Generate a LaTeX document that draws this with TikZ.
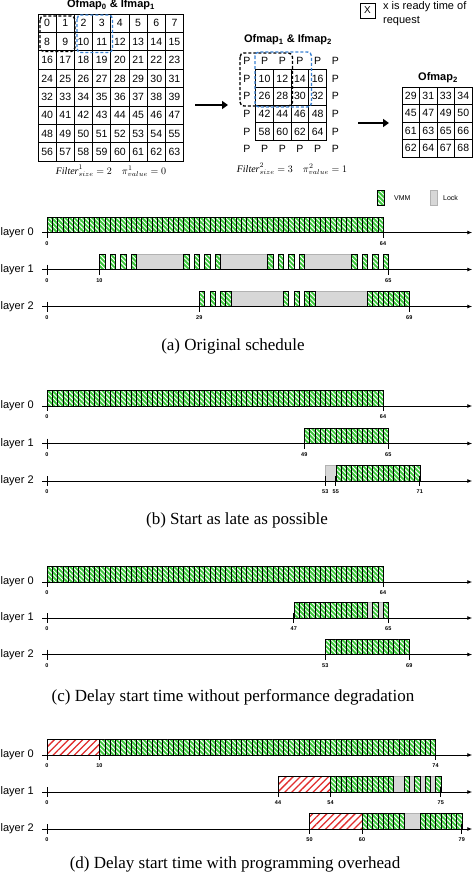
\documentclass[tikz,border=0pt]{standalone}
\usepackage{fontspec}
\setmainfont{Liberation Serif}
\setsansfont{Liberation Sans}
\usetikzlibrary{arrows.meta,patterns.meta}

\definecolor{vmmgreen}{RGB}{60,200,60}
\definecolor{lockgray}{RGB}{215,215,215}
\definecolor{ovhred}{RGB}{225,45,45}
\definecolor{winblue}{RGB}{60,130,210}

\tikzset{
  cellA/.style={draw, line width=0.8pt, minimum width=18.2pt, minimum height=18.4pt, inner sep=0pt, font=\sffamily\fontsize{10.5}{11}\selectfont},
  cellB/.style={minimum width=17.7pt, minimum height=17.7pt, inner sep=0pt, font=\sffamily\fontsize{10.5}{11}\selectfont},
  cellC/.style={draw, line width=0.8pt, minimum width=17.5pt, minimum height=17.5pt, inner sep=0pt, font=\sffamily\fontsize{10.5}{11}\selectfont},
  gridtitle/.style={font=\sffamily\bfseries\fontsize{11}{12}\selectfont},
  window/.style={dash pattern=on 3pt off 2pt, line width=1.4pt, rounded corners=4pt},
  bigarrow/.style={line width=2pt, -{Triangle[length=6pt,width=8pt]}},
  vmm/.style={draw=black, line width=0.5pt, preaction={fill=vmmgreen}, pattern={Lines[angle=-45,distance=3.2pt,line width=1pt]}, pattern color=white},
  lock/.style={draw=gray!60, line width=0.4pt, fill=lockgray},
  ovh/.style={draw=black, line width=0.5pt, preaction={fill=white}, pattern={Lines[angle=45,distance=5pt,line width=1.3pt]}, pattern color=ovhred},
  axis/.style={line width=0.9pt, -{Latex[length=5pt,width=4pt]}},
  tickline/.style={line width=0.8pt},
  ticklbl/.style={font=\sffamily\bfseries\fontsize{5.5}{6}\selectfont, inner sep=0pt},
  layerlbl/.style={anchor=east, inner sep=0pt, font=\sffamily\fontsize{11}{12}\selectfont},
  legtxt/.style={anchor=west, inner sep=0pt, font=\sffamily\fontsize{7}{8}\selectfont},
  capt/.style={font=\fontsize{17}{19}\selectfont}
}

% blocks of one time unit, bars and ticks (time units inside a row)
\newcommand{\vmmat}[1]{\foreach \tm in {#1}{\path[vmm] (\tm,0) rectangle ++(1,-15.5);}}
\newcommand{\lockbar}[2]{\path[lock] (#1,0) rectangle (#2,-15.5);}
\newcommand{\ovhbar}[2]{\path[ovh] (#1,0) rectangle (#2,-15.5);}
\newcommand{\tks}[2]{\foreach \tm in {#2}{\draw[tickline] (\tm,-5) -- (\tm,5); \node[ticklbl] (#1-\tm) at (\tm,11) {\tm};}}
\newcommand{\schedrow}[4]{%
  \begin{scope}[shift={(47,#2)}, x=5.25pt, y=-1pt]
    #4
    \node[layerlbl] (#1-lbl) at (-2.5,0) {layer #3};
    \coordinate (#1-s) at (-0.95,0);
    \coordinate (#1-e) at (81,0);
    \draw[axis] (#1-s) -- (#1-e);
  \end{scope}}

\begin{document}
\begin{tikzpicture}[x=1pt, y=-1pt]
\useasboundingbox (0,0) rectangle (474,879);

% grid 1
\node[gridtitle] (t1) at (111,5) {Ofmap\textsubscript{0} \& Ifmap\textsubscript{1}};
\foreach \r in {0,...,7}
  \foreach \c in {0,...,7}{
    \pgfmathtruncatemacro{\v}{8*\r+\c}
    \node[cellA] (g1-\r-\c) at ({38+18.2*(\c+0.5)},{14+18.4*(\r+0.5)}) {\v};
  }
\draw[window] (40,16) rectangle (75,51.5);
\draw[window, winblue] (77,15) rectangle (112.5,52.5);
\node (f1) at (111,171) {$\mathit{Filter}^{1}_{size}=2\quad \pi^{1}_{value}=0$};

% grid 2 (padded)
\node[gridtitle] (t2) at (288,40) {Ofmap\textsubscript{1} \& Ifmap\textsubscript{2}};
\foreach \r in {0,5}
  \foreach \c in {0,...,5}{
    \node[cellB] (g2-\r-\c) at ({238+17.7*(\c+0.5)},{52+17.7*(\r+0.5)}) {P};
  }
\foreach \r in {1,...,4}
  \foreach \c in {0,5}{
    \node[cellB] (g2-\r-\c) at ({238+17.7*(\c+0.5)},{52+17.7*(\r+0.5)}) {P};
  }
\foreach \r in {1,...,4}
  \foreach \c in {1,...,4}{
    \pgfmathtruncatemacro{\v}{16*(\r-1)+8+2*\c}
    \node[cellB, draw, line width=0.8pt] (g2-\r-\c) at ({238+17.7*(\c+0.5)},{52+17.7*(\r+0.5)}) {\v};
  }
\draw[window] (240,53) rectangle (292.5,106);
\draw[window, winblue] (255,52) rectangle (311.5,107);
\node (f2) at (292,169) {$\mathit{Filter}^{2}_{size}=3\quad \pi^{2}_{value}=1$};

% grid 3
\node[gridtitle] (t3) at (438,78) {Ofmap\textsubscript{2}};
\foreach \row [count=\r from 0] in {{29,31,33,34},{45,47,49,50},{61,63,65,66},{62,64,67,68}}
  \foreach \v [count=\c from 0] in \row{
    \node[cellC] (g3-\r-\c) at ({402+17.5*(\c+0.5)},{87+17.5*(\r+0.5)}) {\v};
  }

% arrows between the maps
\coordinate (arrA-s) at (195,105);
\coordinate (arrA-e) at (228,105);
\draw[bigarrow] (arrA-s) -- (arrA-e);
\coordinate (arrB-s) at (358,123);
\coordinate (arrB-e) at (389,123);
\draw[bigarrow] (arrB-s) -- (arrB-e);

% legends
\node[draw, line width=0.7pt, minimum size=15pt, inner sep=0pt, font=\sffamily\fontsize{10}{10}\selectfont] (legx) at (367.5,10.5) {X};
\node[anchor=north west, align=left, inner sep=0pt, font=\sffamily\fontsize{11}{14}\selectfont] (legxt) at (383,1) {x is ready time of\\request};
\path[vmm] (377.5,190) rectangle (384.5,205.5);
\node[legtxt] (legv) at (394,198) {VMM};
\path[lock] (430,190) rectangle (437,205.5);
\node[legtxt] (legl) at (443,198) {Lock};

% (a) original schedule
\schedrow{a0}{232.5}{0}{\vmmat{0,...,63} \tks{a0}{0,64}}
\schedrow{a1}{269.5}{1}{\lockbar{17}{26}\lockbar{33}{42}\lockbar{49}{58}
  \vmmat{10,12,14,16,26,28,30,32,42,44,46,48,58,60,62,64} \tks{a1}{0,10,65}}
\schedrow{a2}{306.5}{2}{\lockbar{35}{45}\lockbar{51}{61}
  \vmmat{29,31,33,34,45,47,49,50} \vmmat{61,...,68} \tks{a2}{0,29,69}}
\node[capt] (capA) at (233,346) {(a) Original schedule};

% (b) start as late as possible
\schedrow{b0}{406}{0}{\vmmat{0,...,63} \tks{b0}{0,64}}
\schedrow{b1}{443.5}{1}{\vmmat{49,...,64} \tks{b1}{0,49,65}}
\schedrow{b2}{481}{2}{\lockbar{53}{55}\vmmat{55,...,70} \tks{b2}{0,53,55,71}}
\node[capt] (capB) at (237,520) {(b) Start as late as possible};

% (c) delay without degradation
\schedrow{c0}{582}{0}{\vmmat{0,...,63} \tks{c0}{0,64}}
\schedrow{c1}{618}{1}{\lockbar{61}{62}\lockbar{63}{64}\vmmat{47,...,60} \vmmat{62,64} \tks{c1}{0,47,65}}
\schedrow{c2}{654.5}{2}{\vmmat{53,...,68} \tks{c2}{0,53,69}}
\node[capt] (capC) at (233,697) {(c) Delay start time without performance degradation};

% (d) delay with programming overhead
\schedrow{d0}{755}{0}{\ovhbar{0}{10}\vmmat{10,...,73} \tks{d0}{0,10,74}}
\schedrow{d1}{792}{1}{\ovhbar{44}{54}\lockbar{66}{74}\vmmat{54,...,65} \vmmat{68,70,72,74} \tks{d1}{0,44,54,75}}
\schedrow{d2}{829}{2}{\ovhbar{50}{60}\lockbar{68}{71}\vmmat{60,...,67} \vmmat{71,...,78} \tks{d2}{0,50,60,79}}
\node[capt] (capD) at (235,864) {(d) Delay start time with programming overhead};
\end{tikzpicture}
\end{document}
